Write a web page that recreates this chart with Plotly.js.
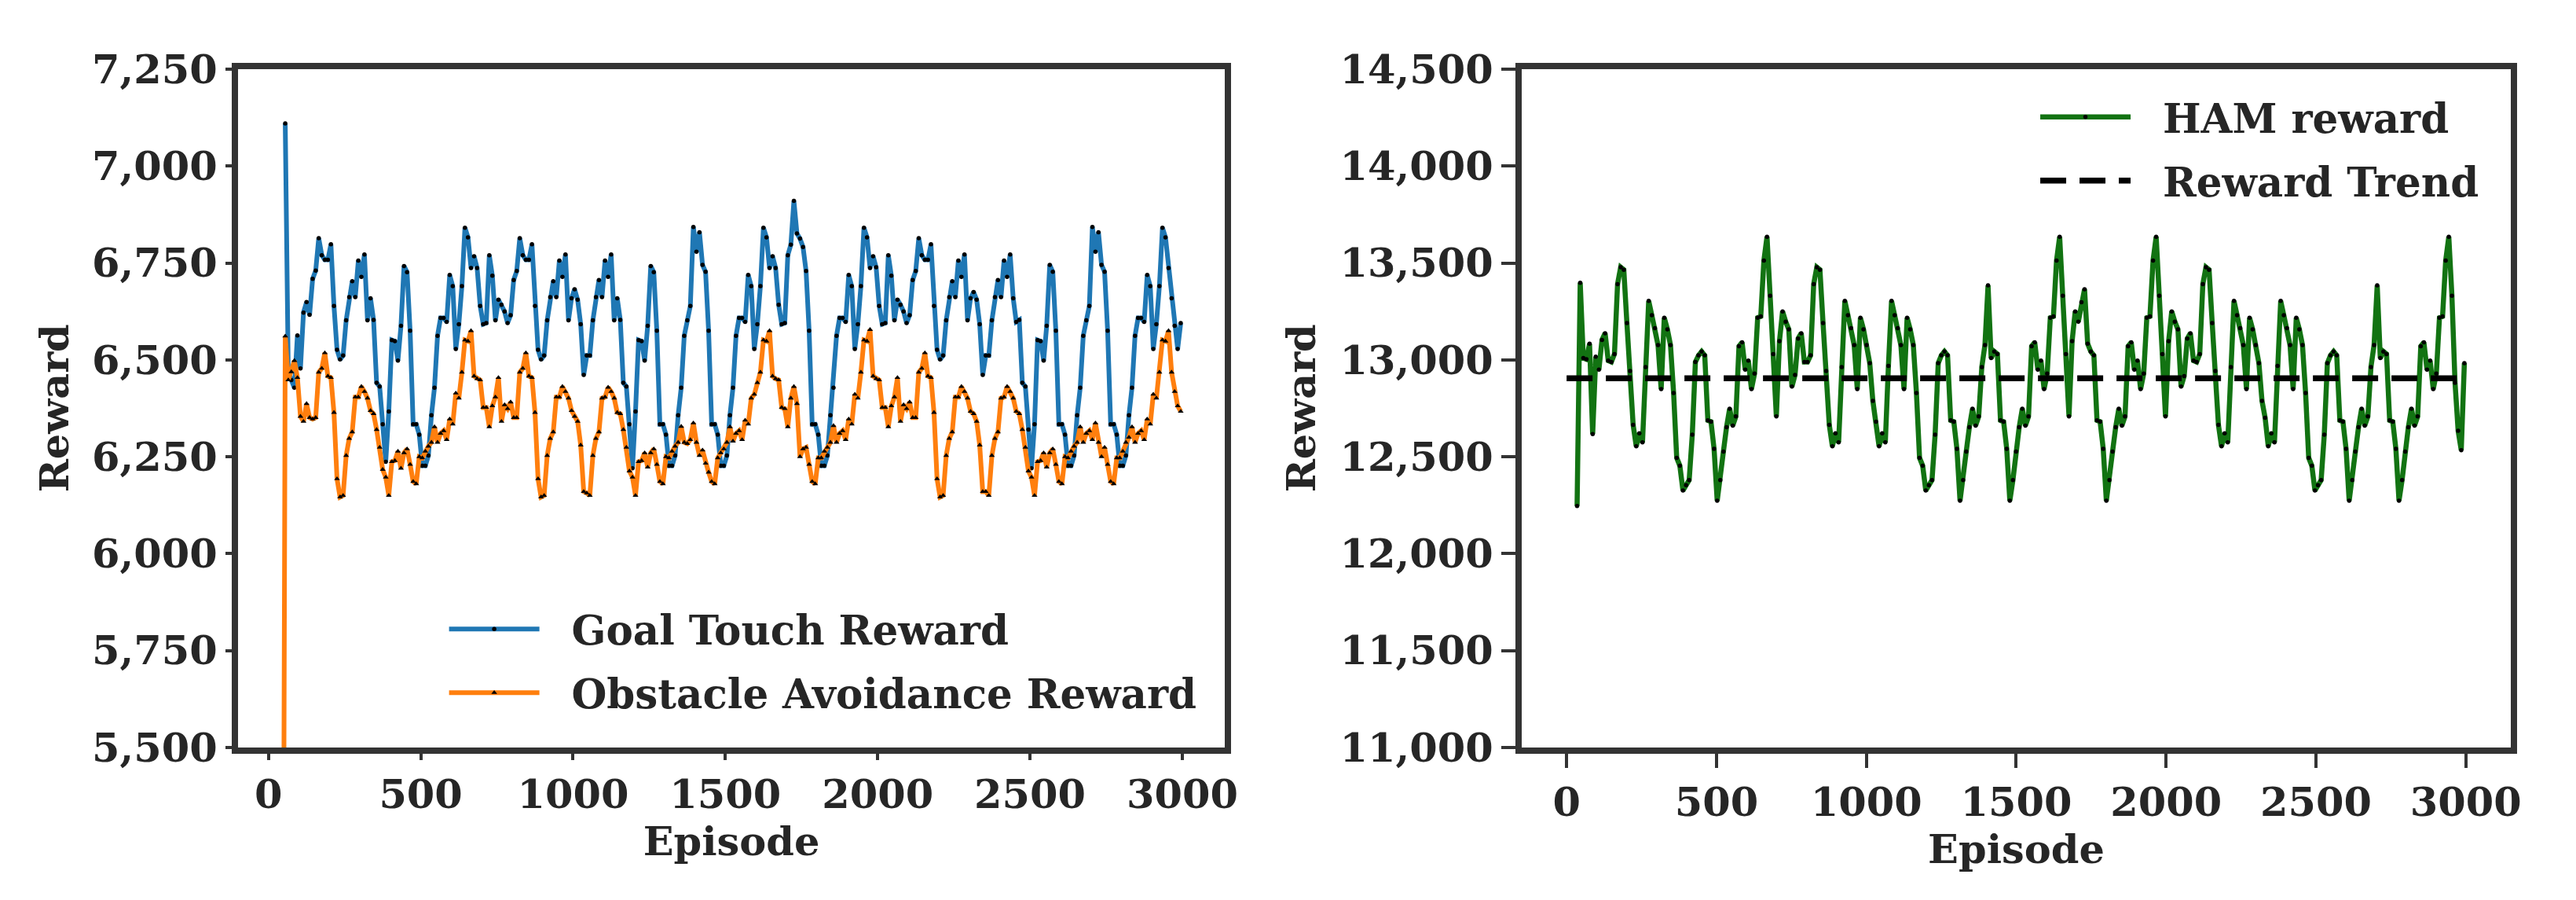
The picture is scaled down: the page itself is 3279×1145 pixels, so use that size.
<!DOCTYPE html>
<html>
<head>
<meta charset="utf-8">
<script src="https://cdn.plot.ly/plotly-3.0.1.min.js"></script>
<style>
html,body{margin:0;padding:0;background:#ffffff;}
#chart{width:3279px;height:1145px;}
</style>
</head>
<body>
<div id="chart"></div>
<script>
// ---- Left panel data (episode grid: 55, 65, ... 2995) ----
const goalTouchReward = [
7110,6468,6448,6428,6563,6478,6622,6649,6616,6709,
6730,6814,6770,6758,6758,6798,6639,6526,6501,6511,
6602,6662,6703,6662,6756,6714,6772,6602,6659,6603,
6441,6431,6334,6237,6367,6551,6548,6498,6588,6742,
6726,6575,6334,6334,6307,6227,6227,6253,6357,6428,
6562,6608,6608,6598,6719,6690,6528,6592,6690,6841,
6816,6737,6767,6737,6639,6592,6595,6770,6717,6602,
6655,6642,6625,6595,6615,6706,6729,6814,6770,6758,
6758,6798,6639,6526,6501,6511,6602,6662,6703,6662,
6756,6714,6772,6602,6659,6682,6655,6592,6461,6511,
6511,6602,6662,6706,6662,6756,6714,6772,6602,6659,
6603,6441,6431,6334,6220,6367,6551,6548,6498,6588,
6742,6726,6575,6334,6334,6307,6227,6227,6253,6357,
6428,6562,6602,6639,6843,6779,6829,6745,6727,6575,
6334,6334,6307,6227,6227,6253,6357,6428,6562,6608,
6608,6598,6719,6690,6528,6592,6690,6841,6816,6737,
6767,6737,6642,6592,6595,6770,6797,6910,6826,6813,
6791,6729,6575,6334,6334,6307,6227,6227,6253,6357,
6428,6562,6608,6608,6598,6719,6690,6528,6592,6690,
6841,6816,6737,6767,6739,6639,6592,6595,6770,6717,
6602,6655,6642,6625,6595,6615,6706,6729,6814,6770,
6758,6758,6798,6639,6526,6501,6511,6602,6662,6703,
6662,6756,6714,6772,6602,6659,6675,6655,6592,6461,
6511,6511,6602,6662,6706,6662,6756,6714,6772,6659,
6598,6603,6441,6431,6320,6220,6334,6551,6548,6498,
6588,6745,6727,6575,6334,6334,6307,6227,6227,6253,
6357,6428,6562,6602,6639,6843,6779,6829,6745,6727,
6575,6334,6334,6307,6227,6227,6253,6357,6428,6562,
6608,6608,6598,6719,6690,6528,6592,6690,6841,6816,
6737,6659,6588,6528,6595
];

// first value lies below the visible axis (line enters from the bottom)
const obstacleAvoidanceReward = [
4000,
6561,6448,6469,6498,6454,6354,6341,6387,6351,6347,
6351,6468,6478,6518,6458,6454,6364,6193,6146,6150,
6253,6297,6314,6404,6404,6431,6418,6401,6369,6361,
6320,6274,6217,6197,6150,6237,6240,6264,6220,6260,
6270,6230,6186,6180,6250,6247,6264,6277,6287,6327,
6287,6310,6317,6294,6347,6334,6414,6401,6468,6551,
6548,6575,6458,6451,6448,6377,6377,6327,6381,6404,
6454,6341,6384,6374,6391,6351,6351,6468,6478,6518,
6458,6454,6364,6193,6146,6150,6253,6297,6314,6404,
6404,6431,6418,6401,6369,6354,6341,6280,6160,6156,
6150,6253,6297,6314,6401,6404,6429,6418,6401,6364,
6361,6320,6274,6213,6197,6150,6237,6240,6260,6223,
6260,6270,6230,6186,6180,6250,6247,6264,6277,6287,
6328,6287,6284,6294,6337,6287,6253,6267,6233,6210,
6186,6180,6247,6260,6270,6287,6327,6290,6310,6317,
6294,6344,6334,6401,6411,6441,6468,6551,6548,6575,
6458,6451,6448,6377,6374,6327,6401,6431,6387,6250,
6270,6274,6230,6186,6180,6247,6247,6264,6274,6287,
6330,6287,6310,6317,6294,6347,6334,6411,6401,6468,
6551,6548,6578,6458,6451,6448,6377,6377,6327,6381,
6404,6454,6341,6384,6374,6391,6351,6351,6468,6478,
6518,6458,6454,6364,6193,6146,6150,6253,6297,6314,
6404,6404,6431,6418,6401,6367,6361,6341,6280,6160,
6160,6150,6253,6297,6314,6401,6404,6431,6418,6401,
6367,6361,6320,6274,6213,6197,6150,6237,6240,6260,
6223,6260,6270,6230,6186,6180,6250,6247,6264,6277,
6287,6327,6287,6310,6317,6294,6337,6287,6250,6274,
6230,6186,6180,6247,6247,6264,6287,6300,6327,6287,
6310,6317,6294,6347,6334,6411,6401,6468,6551,6548,
6575,6468,6418,6381,6367
];

// ---- Right panel data ----
const hamReward = [
12246,13398,13009,13003,13083,12617,13016,12949,13103,13137,
12996,12989,13030,13391,13478,13465,13190,12942,12665,12554,
12621,12574,12963,13304,13230,13163,13076,12849,13217,13157,
13076,12829,12494,12454,12326,12353,12380,12614,12989,13023,
13043,13023,12688,12681,12541,12273,12380,12527,12652,12748,
12661,12708,13070,13090,12949,12996,12849,12929,13217,13224,
13512,13635,13331,13030,12708,13096,13250,13197,13157,12862,
12922,13110,13137,12989,12989,13023,13391,13478,13465,13190,
12942,12665,12554,12621,12574,12963,13304,13230,13163,13076,
12849,13217,13157,13076,12983,12788,12681,12554,12621,12574,
12969,13304,13230,13163,13076,12849,13217,13157,13076,12829,
12494,12454,12326,12353,12380,12614,12983,13023,13043,13023,
12688,12681,12541,12273,12380,12527,12652,12748,12661,12708,
12963,13076,13384,13009,13043,13030,12688,12681,12541,12273,
12380,12527,12652,12748,12661,12708,13070,13090,12949,12996,
12849,12929,13217,13224,13512,13635,13331,13030,12708,13096,
13250,13197,13297,13364,13083,13043,13023,12688,12681,12541,
12273,12380,12527,12652,12748,12661,12708,13070,13090,12949,
12996,12849,12929,13217,13224,13512,13635,13331,13030,12708,
13096,13250,13197,13157,12862,12916,13110,13137,12996,12989,
13030,13391,13478,13465,13190,12942,12665,12554,12621,12574,
12963,13304,13230,13163,13076,12849,13217,13157,13076,12983,
12788,12701,12554,12621,12574,12969,13304,13230,13163,13076,
12849,13217,13157,13076,12829,12494,12454,12326,12353,12380,
12614,12983,13023,13043,13023,12688,12681,12541,12273,12380,
12527,12652,12748,12661,12708,12963,13076,13384,13009,13043,
13030,12688,12681,12541,12273,12380,12527,12652,12748,12661,
12708,13070,13090,12949,12996,12849,12929,13217,13224,13512,
13635,13331,12882,12634,12534,12983
];
const trendEpisodes = [0, 3000];
const rewardTrend = [12905, 12905];

// ---- Tick values ----
const episodeTicks = [0, 500, 1000, 1500, 2000, 2500, 3000];
const leftRewardTicks = [5500, 5750, 6000, 6250, 6500, 6750, 7000, 7250];
const rightRewardTicks = [11000, 11500, 12000, 12500, 13000, 13500, 14000, 14500];

// ---- Episode grids ----
const goalEpisodes = goalTouchReward.map((_, i) => 55 + 10 * i);
const obstacleEpisodes = [45].concat(goalEpisodes);
const hamEpisodes = hamReward.map((_, i) => 35 + i * (2995 - 35) / (hamReward.length - 1));

const FONT = {family: 'DejaVu Serif, serif', size: 51, color: '#262626', weight: 'bold'};
const LEGEND_FONT = {family: 'DejaVu Serif, serif', size: 51.5, color: '#262626', weight: 'bold'};
const FRAME = '#333333';
const GAP = '&nbsp;&nbsp;';

const traces = [
  {x: goalEpisodes, y: goalTouchReward, type: 'scatter', mode: 'lines+markers',
   name: GAP + 'Goal Touch Reward', xaxis: 'x', yaxis: 'y', legend: 'legend', legendgroup: 'g1',
   line: {color: '#1f77b4', width: 6},
   marker: {color: '#000000', size: 5.5, symbol: 'circle'}},
  {x: obstacleEpisodes, y: obstacleAvoidanceReward, type: 'scatter', mode: 'lines+markers',
   name: GAP + 'Obstacle Avoidance Reward', xaxis: 'x', yaxis: 'y', legend: 'legend', legendgroup: 'g2',
   line: {color: '#ff7f0e', width: 6},
   marker: {color: '#000000', size: 6.5, symbol: 'triangle-up'}},
  {x: hamEpisodes, y: hamReward, type: 'scatter', mode: 'lines+markers',
   name: GAP + 'HAM reward', xaxis: 'x2', yaxis: 'y2', legend: 'legend2', legendgroup: 'g3',
   line: {color: '#127312', width: 6.5},
   marker: {color: '#000000', size: 5.5, symbol: 'circle'}},
  {x: trendEpisodes, y: rewardTrend, type: 'scatter', mode: 'lines',
   name: GAP + 'Reward Trend', xaxis: 'x2', yaxis: 'y2', legend: 'legend2', legendgroup: 'g4',
   line: {color: '#000000', width: 7.5, dash: '33px,17px'}}
];

function axisBase(extra) {
  return Object.assign({
    showline: true, mirror: true, linecolor: FRAME, linewidth: 8,
    ticks: 'outside', tickcolor: FRAME, tickwidth: 4,
    showgrid: false, zeroline: false, tickfont: FONT,
    fixedrange: true
  }, extra);
}

const layout = {
  width: 3279, height: 1145,
  margin: {l: 0, r: 0, t: 0, b: 0},
  paper_bgcolor: '#ffffff', plot_bgcolor: '#ffffff',
  font: FONT,
  showlegend: true,
  xaxis: axisBase({domain: [0.0924, 0.4755], range: [-100, 3140], anchor: 'y',
    tickvals: episodeTicks, tickformat: 'd', ticklen: 8,
    title: {text: 'Episode', font: FONT, standoff: 8}}),
  yaxis: axisBase({domain: [0.1695, 0.9232], range: [5500, 7250], anchor: 'x',
    tickvals: leftRewardTicks, tickformat: ',d', ticklen: 8,
    title: {text: 'Reward', font: FONT, standoff: 16}}),
  xaxis2: axisBase({domain: [0.5907, 0.9747], range: [-150, 3150], anchor: 'y2',
    tickvals: episodeTicks, tickformat: 'd', ticklen: 18,
    title: {text: 'Episode', font: FONT, standoff: 10}}),
  yaxis2: axisBase({domain: [0.1695, 0.9232], range: [11000, 14500], anchor: 'x2',
    tickvals: rightRewardTicks, tickformat: ',d', ticklen: 18,
    title: {text: 'Reward', font: FONT, standoff: 18}}),
  legend: {x: 0.1728, y: 0.336, xanchor: 'left', yanchor: 'top',
    bgcolor: 'rgba(0,0,0,0)', borderwidth: 0, font: LEGEND_FONT, itemwidth: 115,
    traceorder: 'grouped', tracegroupgap: 11},
  legend2: {x: 0.7905, y: 0.905, xanchor: 'left', yanchor: 'top',
    bgcolor: 'rgba(0,0,0,0)', borderwidth: 0, font: LEGEND_FONT, itemwidth: 115,
    traceorder: 'grouped', tracegroupgap: 11}
};

Plotly.newPlot('chart', traces, layout, {displayModeBar: false, staticPlot: true});
</script>
</body>
</html>
